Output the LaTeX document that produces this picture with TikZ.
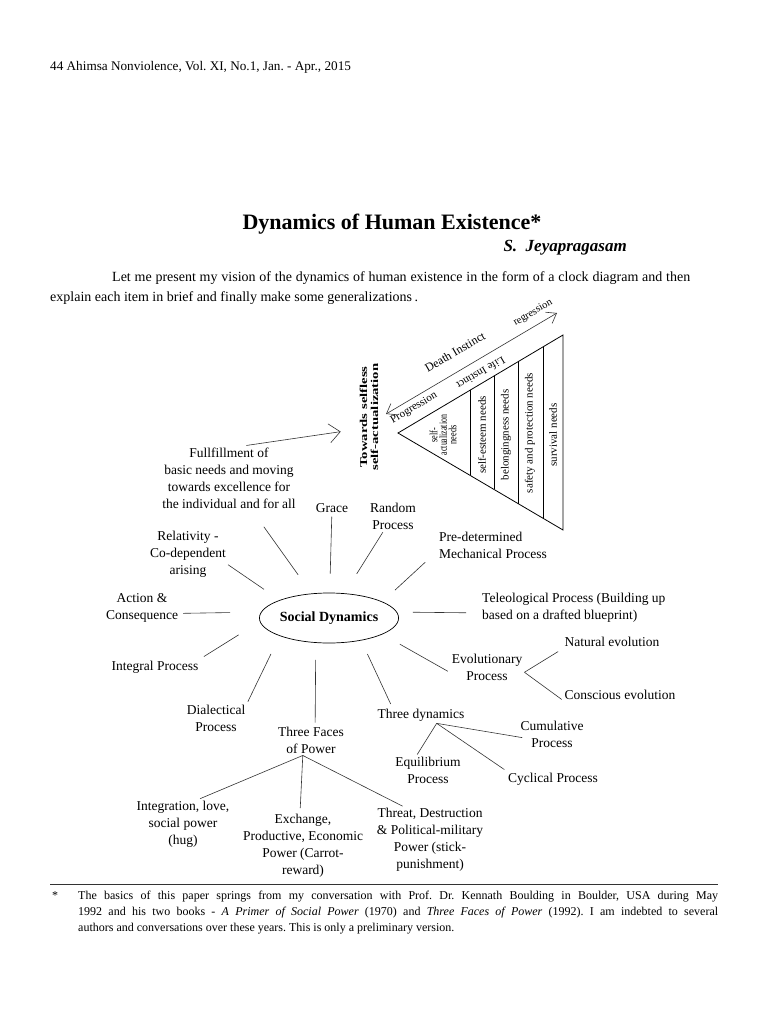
\documentclass[tikz,border=0pt]{standalone}
\usepackage{fontspec}
\setmainfont{Liberation Serif}
\usepackage{graphicx}
\usetikzlibrary{arrows.meta,shapes.geometric,calc}
\newcommand{\lblfont}{\fontsize{13.5}{17}\selectfont}
\newcommand{\needfont}{\fontsize{11}{9.5}\selectfont}
\frenchspacing
\tikzset{
  dyn/label/.style={align=center, inner sep=2pt, font=\lblfont},
  dyn/leftlabel/.style={dyn/label, align=left, anchor=west},
  dyn/hub/.style={draw, ellipse, line width=0.7pt, minimum width=118pt, minimum height=50pt, inner sep=0pt, font=\fontsize{14}{16}\selectfont\bfseries},
  dyn/need/.style={align=center, inner sep=1pt, rotate=90, font=\needfont},
  dyn/instinct/.style={inner sep=0pt, font=\fontsize{11}{12}\selectfont},
  dyn/spoke/.style={line width=0.6pt, black!80},
  dyn/edge/.style={line width=0.8pt},
  dyn/barb/.style={line width=0.6pt, black!80, -{Straight Barb[length=11pt,width=19pt]}},
  dyn/twoway/.style={line width=0.6pt, black!80, {Straight Barb[length=9pt,width=13pt]}-{Straight Barb[length=9pt,width=13pt]}}
}

\begin{document}
\begin{tikzpicture}[x=1pt, y=-1pt,
  page/.style={inner sep=0pt, anchor=north west}
]
\useasboundingbox (0,0) rectangle (768,1024);
\fill[white] (0,0) rectangle (768,1024);

% page head, title, author, opening paragraph
\node[anchor=west, inner sep=0pt, font=\fontsize{13.2}{15}\selectfont] (hdr) at (50,67) {44 Ahimsa Nonviolence, Vol. XI, No.1, Jan. - Apr., 2015};
\node[font=\fontsize{22}{26}\selectfont\bfseries] (title) at (392,224) {Dynamics of Human Existence*};
\node[anchor=west, font=\fontsize{17}{20}\selectfont\bfseries\itshape] (auth) at (500,248) {S.~~Jeyapragasam};
\node[page, text width=640pt, align=justify, font=\fontsize{14}{20}\selectfont] (para) at (50,271)
  {\hspace*{62pt}Let me present my vision of the dynamics of human existence in the form of a clock diagram and then\linebreak
   explain each item in brief and finally make some generalizations\,.};

% the needs triangle
\coordinate (tipL) at (398,433);
\coordinate (tipT) at (563,335);
\coordinate (tipB) at (563,530);
\draw[dyn/edge] (tipL) -- (tipT) -- (tipB) -- cycle;
\foreach \f in {72,96,120,145}
  \draw[dyn/edge] ($(tipL)!\f/165!(tipT)$) -- ($(tipL)!\f/165!(tipB)$);

\node[dyn/need] (n1) at (443,435) {\scalebox{0.75}[1]{self-}\\\scalebox{0.72}[1]{actualization}\\\scalebox{0.75}[1]{needs}};
\node[dyn/need] (n2) at (482,435) {self-esteem needs};
\node[dyn/need] (n3) at (506,435) {belongingness needs};
\node[dyn/need] (n4) at (530,433) {safety and protection needs};
\node[dyn/need] (n5) at (553,435) {survival needs};

% instinct arrow
\coordinate (regA) at (386,414);
\coordinate (regB) at (557,313);
\draw[dyn/twoway] (regA) -- (regB);
\node[dyn/instinct, rotate=30.3, font=\fontsize{12}{13}\selectfont] (death) at (455,352) {Death Instinct};
\node[dyn/instinct, rotate=30.3, font=\fontsize{10.5}{12}\selectfont] (regr) at (533,313) {regression};
\node[dyn/instinct, rotate=30.3] (prog) at (414,408) {Progression};
\node[dyn/instinct, rotate=210.3] (life) at (481,373) {Life Instinct};

\node[rotate=90, align=center, inner sep=1pt, font=\fontsize{10.5}{11}\selectfont\bfseries] (tow) at (369,417)
  {\scalebox{1.4}[1]{Towards selfless}\\\scalebox{1.4}[1]{self-actualization}};

% clock of social dynamics
\node[dyn/hub] (sd) at (329,618) {Social Dynamics};

\node[dyn/label] (ful) at (229,478) {Fullfillment of\\basic needs and moving\\towards excellence for\\the individual and for all};
\node[dyn/label] (grace) at (332,508) {Grace};
\node[dyn/label] (rnd) at (393,516) {Random\\Process};
\node[dyn/leftlabel] (pre) at (437,545.5) {Pre-determined\\Mechanical Process};
\node[dyn/leftlabel] (tele) at (480,608) {Teleological Process (Building up\\based on a drafted blueprint)};
\node[dyn/label] (rel) at (188,554) {Relativity -\\Co-dependent\\arising};
\node[dyn/label] (act) at (142,608) {Action \&\\Consequence};
\node[dyn/label] (intg) at (155,667) {Integral Process};
\node[dyn/label] (dia) at (216,718) {Dialectical\\Process};
\node[dyn/label] (tf) at (311,740) {Three Faces\\of Power};
\node[dyn/label] (td) at (421,715) {Three dynamics};
\node[dyn/label] (evo) at (487,667) {Evolutionary\\Process};
\node[dyn/label] (nat) at (612,642) {Natural evolution};
\node[dyn/label] (con) at (620,695) {Conscious evolution};
\node[dyn/label] (cum) at (552,734) {Cumulative\\Process};
\node[dyn/label] (eqp) at (428,770) {Equilibrium\\Process};
\node[dyn/label] (cyc) at (553,779) {Cyclical Process};
\node[dyn/label] (hug) at (183,824) {Integration, love,\\social power\\(hug)};
\node[dyn/label] (exch) at (303,846) {Exchange,\\Productive, Economic\\Power (Carrot-\\reward)};
\node[dyn/label] (thr) at (430,840) {Threat, Destruction\\\& Political-military\\Power (stick-\\punishment)};

% spokes
\draw[dyn/spoke, shorten <=23pt, shorten >=20pt] (sd) -- (ful);
\draw[dyn/spoke, shorten <=19pt, shorten >=2pt] (sd) -- (grace);
\draw[dyn/spoke, shorten <=23pt, shorten >=1pt] (sd) -- (rnd);
\draw[dyn/spoke, shorten <=19pt] (sd.160) -- (rel.345);
\draw[dyn/spoke, shorten <=17pt, shorten >=16pt] (sd.17) -- (pre.186);
\draw[dyn/spoke, shorten <=16pt, shorten >=14pt] (sd.5) -- (tele.183);
\draw[dyn/spoke, shorten <=31pt, shorten >=3pt] (sd.175) -- (act.352);
\draw[dyn/spoke, shorten <=25pt, shorten >=4pt] (sd.183) -- (intg.north east);
\draw[dyn/spoke, shorten <=20pt, shorten >=1pt] (sd.200) -- (dia.north east);
\draw[dyn/spoke, shorten <=17pt, shorten >=2pt] (sd.242) -- (tf.75);
\draw[dyn/spoke, shorten <=15pt, shorten >=3pt] (sd.325) -- (td.164);
\draw[dyn/spoke, shorten <=20pt, shorten >=2pt] (sd.343) -- (evo.188);

% branches
\draw[dyn/spoke, shorten >=5pt] (evo.352) -- (nat.south west);
\draw[dyn/spoke, shorten >=1pt] (evo.352) -- (con.185);
\draw[dyn/spoke] (td.332) -- (eqp.125);
\draw[dyn/spoke, shorten >=-4pt] (td.332) -- (cum.185);
\draw[dyn/spoke, shorten >=2pt] (td.332) -- (cyc.north west);
\draw[dyn/spoke] (tf.242) -- (hug.56);
\draw[dyn/spoke, shorten >=4pt] (tf.242) -- (exch.95);
\draw[dyn/spoke] (tf.242) -- (thr.129);

\draw[dyn/barb, shorten >=18pt] (ful.62) -- (tow.139);

% footnote
\draw[line width=0.8pt, black!80] (50,884) -- (718,884);
\node[page, font=\fontsize{12}{16}\selectfont] (fnmark) at (52,891) {*};
\node[page, text width=640pt, align=justify, font=\fontsize{12}{16}\selectfont] (fn) at (78,891)
  {The basics of this paper springs from my conversation with Prof. Dr. Kennath Boulding in Boulder, USA during May\linebreak
   1992 and his two books - \textit{A Primer of Social Power} (1970) and \textit{Three Faces of Power} (1992). I am indebted to several\linebreak
   authors and conversations over these years. This is only a preliminary version.};
\end{tikzpicture}
\end{document}
